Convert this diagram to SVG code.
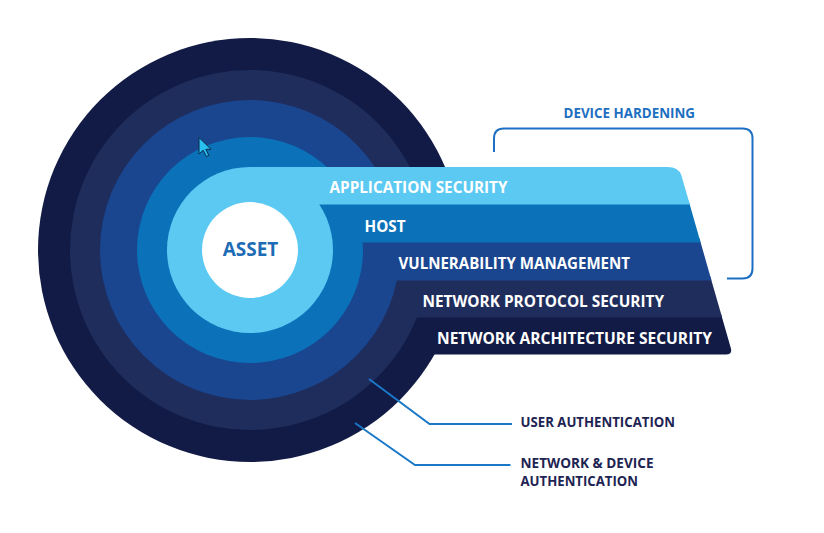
<svg xmlns="http://www.w3.org/2000/svg" width="824" height="533" viewBox="0 0 824 533">
<style>
.band{font-family:"Open Sans","Liberation Sans",sans-serif;font-weight:700;font-size:16px;fill:#ffffff}
.lbl{font-family:"Open Sans","Liberation Sans",sans-serif;font-weight:700;font-size:13.5px;fill:#1e2452}
.hdr{font-family:"Open Sans","Liberation Sans",sans-serif;font-weight:700;font-size:14.5px;fill:#1d6fc1}
.lead{fill:none;stroke:#1a78c8;stroke-width:2}
</style>
<rect width="824" height="533" fill="#ffffff"/>
<g id="layer-network-architecture">
<circle cx="250" cy="250" r="212" fill="#121b45"/>
<path d="M250,313.5 L720.9,313.5 L730.8,348 Q732.8,354.5 726,354.5 L250,354.5 Z" fill="#121b45"/>
<text class="band" x="437" y="343.7" textLength="275" lengthAdjust="spacingAndGlyphs">NETWORK ARCHITECTURE SECURITY</text>
</g>
<g id="layer-network-protocol">
<circle cx="250" cy="250" r="180" fill="#1f2d5c"/>
<path d="M250,276.5 L710.3,276.5 L722.1,317.5 L250,317.5 Z" fill="#1f2d5c"/>
<text class="band" x="422.5" y="306.7" textLength="241.5" lengthAdjust="spacingAndGlyphs">NETWORK PROTOCOL SECURITY</text>
</g>
<g id="layer-vulnerability">
<circle cx="250" cy="250" r="150" fill="#1a4690"/>
<path d="M250,238.5 L699.5,238.5 L711.5,280.5 L250,280.5 Z" fill="#1a4690"/>
<text class="band" x="398.5" y="269" textLength="231.5" lengthAdjust="spacingAndGlyphs">VULNERABILITY MANAGEMENT</text>
</g>
<g id="layer-host">
<circle cx="250" cy="250" r="113" fill="#0b72ba"/>
<path d="M250,200.5 L688.6,200.5 L700.6,242.5 L250,242.5 Z" fill="#0b72ba"/>
<text class="band" x="364.5" y="231.7" textLength="41" lengthAdjust="spacingAndGlyphs">HOST</text>
</g>
<g id="layer-application">
<circle cx="250" cy="250" r="83" fill="#5bc9f2"/>
<path d="M250,167 L668,167 Q678,167 681.3,175 L689.8,204.5 L250,204.5 Z" fill="#5bc9f2"/>
<text class="band" x="329.5" y="193.3" textLength="178" lengthAdjust="spacingAndGlyphs">APPLICATION SECURITY</text>
</g>
<g id="asset">
<circle cx="250" cy="250" r="48" fill="#ffffff"/>
<text x="250.5" y="256" text-anchor="middle" font-family="'Open Sans','Liberation Sans',sans-serif" font-weight="700" font-size="19" fill="#1e6cb5" textLength="55.5" lengthAdjust="spacingAndGlyphs">ASSET</text>
</g>
<g id="connectors">
<path class="lead" d="M369,379 L429.5,424 L512,424"/>
<path class="lead" d="M355,423 L415,465 L510.5,465"/>
<path fill="none" stroke="#1d6fc1" stroke-width="2" d="M494,152 V138.5 Q494,128.5 504,128.5 H742.5 Q752.5,128.5 752.5,138.5 V268.5 Q752.5,278.5 742.5,278.5 H727"/>
</g>
<g id="device-hardening">
<text class="hdr" x="563.5" y="118.3" textLength="131.5" lengthAdjust="spacingAndGlyphs">DEVICE HARDENING</text>
</g>
<g id="user-authentication">
<text class="lbl" x="520.5" y="426.7" textLength="154.5" lengthAdjust="spacingAndGlyphs">USER AUTHENTICATION</text>
</g>
<g id="network-device-authentication">
<text class="lbl" x="520.5" y="467.7" textLength="133" lengthAdjust="spacingAndGlyphs">NETWORK &amp; DEVICE</text>
<text class="lbl" x="520.5" y="486" textLength="117.5" lengthAdjust="spacingAndGlyphs">AUTHENTICATION</text>
</g>
<polygon points="199,137.5 199,154 203.2,150.3 206.3,156.5 208.8,155.4 205.9,149.3 211,149.3" fill="#29c0f0" stroke="#0a2a4a" stroke-width="1" stroke-linejoin="round"/>
</svg>
